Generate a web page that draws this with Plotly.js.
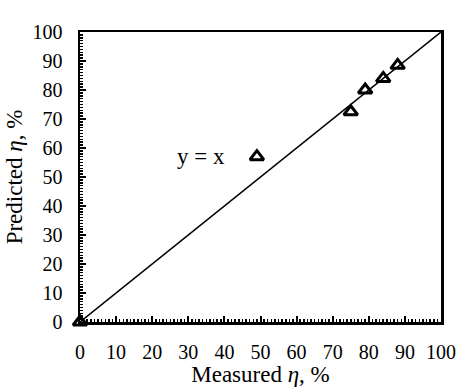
<!DOCTYPE html>
<html><head><meta charset="utf-8">
<script src="https://cdn.plot.ly/plotly-3.0.1.min.js"></script>
<style>body{margin:0;background:#fff}#c{width:474px;height:392px}</style>
</head><body><div id="c"></div>
<script>
const measured = [0, 49, 75, 79, 84, 88];
const predicted = [0, 57, 72.5, 80, 84, 88.5];
const refX = [0, 100];
const refY = [0, 100];
const refLabel = 'y = x';
const tickVals = [0,10,20,30,40,50,60,70,80,90,100];

const font = {family: '"Liberation Serif", "Times New Roman", serif', color: '#000', size: 20};
const axisBase = {
  range: [0, 100], tickvals: tickVals, ticks: 'inside', ticklen: 6, tickwidth: 2, tickcolor: '#000',
  showline: true, linecolor: '#000', linewidth: 2.5, mirror: true, showgrid: false, zeroline: false,
  tickfont: {family: font.family, size: 20, color: '#000'},
  minor: {dtick: 1, ticks: 'inside', ticklen: 3, tickwidth: 1.5, tickcolor: '#000', showgrid: false},
  fixedrange: true
};
const data = [
  {x: refX, y: refY, mode: 'lines', line: {color: '#000', width: 1.5}, hoverinfo: 'skip', showlegend: false},
  {x: measured, y: predicted, mode: 'markers', cliponaxis: false, showlegend: false,
   marker: {symbol: 'triangle-up-open', size: 12, color: '#000', line: {color: '#000', width: 3}}}
];
const layout = {
  width: 474, height: 392, margin: {l: 80, r: 33, t: 32, b: 70},
  paper_bgcolor: '#fff', plot_bgcolor: '#fff', font: font, showlegend: false,
  xaxis: Object.assign({}, axisBase, {ticklabelstandoff: 10,
    title: {text: 'Measured <i>η</i>, %', font: {family: font.family, size: 23, color: '#000'}, standoff: 4}}),
  yaxis: Object.assign({}, axisBase, {ticklabelstandoff: 11,
    title: {text: 'Predicted <i>η</i>, %', font: {family: font.family, size: 23, color: '#000'}, standoff: 4}}),
  annotations: [{x: 33.5, y: 57, xref: 'x', yref: 'y', text: refLabel, showarrow: false,
    font: {family: font.family, size: 23, color: '#000'}}]
};
Plotly.newPlot('c', data, layout, {displayModeBar: false, staticPlot: true});
</script></body></html>
